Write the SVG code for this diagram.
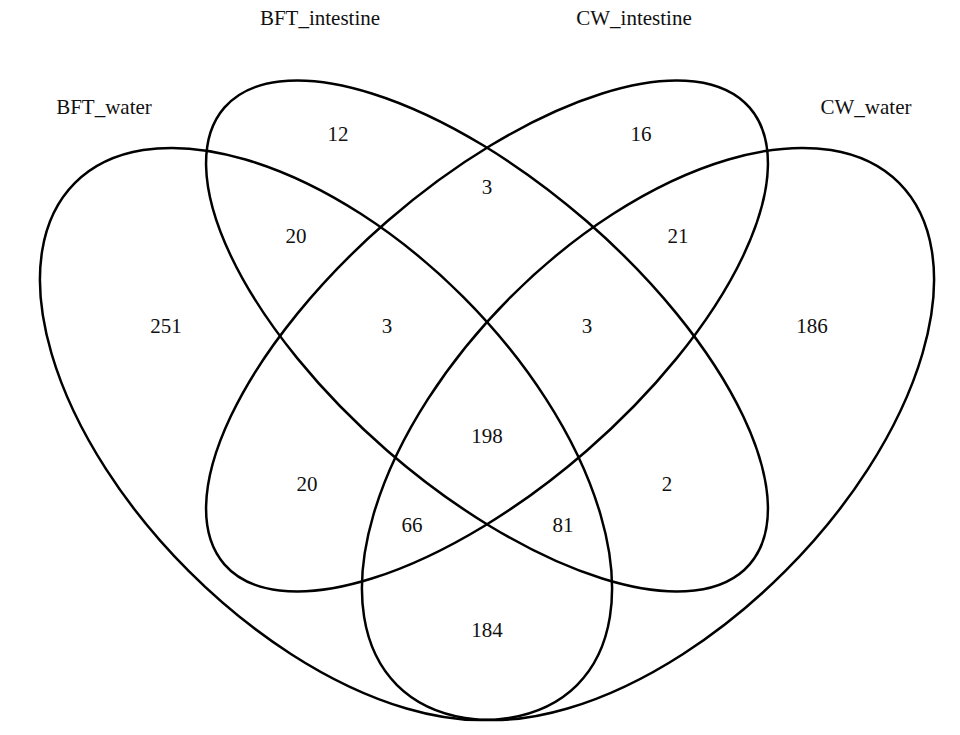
<svg xmlns="http://www.w3.org/2000/svg" width="960" height="735" viewBox="0 0 960 735">
<style>
.e{fill:none;stroke:#000;stroke-width:2.5}
text{font-family:"Liberation Serif",serif;font-size:21px;fill:#111;text-anchor:middle}
</style>
<rect width="960" height="735" fill="#fff"/>
<g id="connectors"></g>
<g id="BFT_water"><ellipse class="e" cx="326" cy="434" rx="355" ry="194" transform="rotate(45 326 434)"/><text x="104" y="114">BFT_water</text></g>
<g id="BFT_intestine"><ellipse class="e" cx="487" cy="336" rx="348" ry="152" transform="rotate(41 487 336)"/><text x="320" y="25">BFT_intestine</text></g>
<g id="CW_intestine"><ellipse class="e" cx="487" cy="336" rx="348" ry="152" transform="rotate(-41 487 336)"/><text x="634" y="25">CW_intestine</text></g>
<g id="CW_water"><ellipse class="e" cx="648" cy="434" rx="355" ry="194" transform="rotate(-45 648 434)"/><text x="866" y="114">CW_water</text></g>
<g id="counts">
<text x="338" y="141">12</text><text x="641" y="141">16</text>
<text x="296" y="243">20</text><text x="487" y="194">3</text><text x="678" y="243">21</text>
<text x="166" y="333">251</text><text x="387" y="333">3</text><text x="587" y="333">3</text><text x="812" y="333">186</text>
<text x="487" y="443">198</text>
<text x="307" y="491">20</text><text x="667" y="491">2</text>
<text x="412" y="532">66</text><text x="563" y="532">81</text>
<text x="487" y="637">184</text>
</g>
</svg>
